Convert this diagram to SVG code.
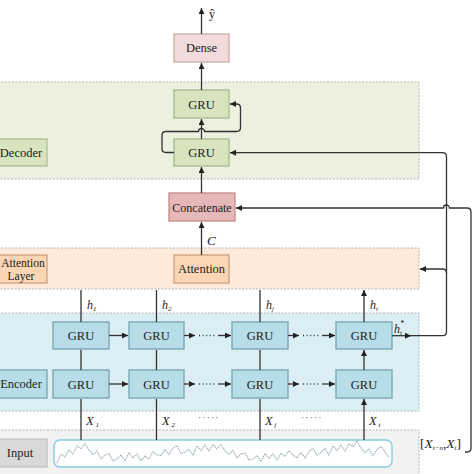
<svg xmlns="http://www.w3.org/2000/svg" width="474" height="474" viewBox="0 0 474 474" font-family="'Liberation Serif', 'Times New Roman', serif">
<defs>
<marker id="ah" markerWidth="8" markerHeight="8" refX="6" refY="3" orient="auto" markerUnits="userSpaceOnUse">
<path d="M0,0 L6,3 L0,6 Z" fill="#222"/>
</marker>
<style>
text{font-family:'Liberation Serif','Times New Roman',serif;fill:#222;}
.lbl{font-size:12.5px;text-anchor:middle;}
.it{font-style:italic;}
.reg{stroke:#b4b4b4;stroke-width:1;stroke-dasharray:2,1.5;}
.ln{fill:none;stroke:#333;stroke-width:1.3;}
.arr{fill:none;stroke:#333;stroke-width:1.3;marker-end:url(#ah);}
.dgru{fill:#d7e4bd;stroke:#a3b58a;stroke-width:1.2;}
.egru{fill:#b7dde8;stroke:#6f9fae;stroke-width:1.2;}
</style>
</defs>
<rect width="474" height="474" fill="#fff"/>

<!-- regions -->
<g id="decoder-region"><rect class="reg" x="-2" y="82" width="421" height="97" fill="#ebf1de"/></g>
<g id="attention-region"><rect class="reg" x="-2" y="248" width="421" height="41" fill="#fdeada"/></g>
<g id="encoder-region"><rect class="reg" x="-2" y="313" width="421" height="98" fill="#daeef3"/></g>
<g id="input-region"><rect class="reg" x="-2" y="430" width="421" height="45" fill="#f2f2f2"/></g>

<!-- side labels -->
<g id="decoder-label"><rect x="-9" y="139" width="56" height="27" fill="#d7e4bd" stroke="#a9b98f" stroke-width="1.2"/><text class="lbl" x="21" y="156.5">Decoder</text></g>
<g id="attention-label"><rect x="-9" y="255" width="56" height="28" fill="#fcd5b4" stroke="#c99c7a" stroke-width="1.2"/><text class="lbl" x="23" y="267" style="font-size:11.5px">Attention</text><text class="lbl" x="21" y="280" style="font-size:11.5px">Layer</text></g>
<g id="encoder-label"><rect x="-9" y="370" width="56" height="28" fill="#b7dde8" stroke="#6f9fae" stroke-width="1.2"/><text class="lbl" x="21" y="388">Encoder</text></g>
<g id="input-label"><rect x="-9" y="439" width="56" height="28" fill="#d9d9d9" stroke="#bfbfbf" stroke-width="1.2"/><text class="lbl" x="20" y="457">Input</text></g>

<!-- decoder nodes -->
<g id="dense"><rect x="174" y="34" width="55" height="28" fill="#f2dcdb" stroke="#c9a3a2" stroke-width="1.2"/><text class="lbl" x="201.5" y="52">Dense</text></g>
<g id="dec-gru-top"><rect class="dgru" x="174" y="90" width="55" height="28"/><text class="lbl" x="201.5" y="108.5">GRU</text></g>
<g id="dec-gru-bottom"><rect class="dgru" x="174" y="139" width="55" height="27"/><text class="lbl" x="201.5" y="157">GRU</text></g>
<g id="concatenate"><rect x="169" y="193" width="66" height="28" fill="#e6b9b8" stroke="#c08080" stroke-width="1.2"/><text class="lbl" x="202" y="211.5" style="font-size:12px">Concatenate</text></g>
<g id="attention"><rect x="174" y="255" width="55" height="28" fill="#fcd5b4" stroke="#c99c7a" stroke-width="1.2"/><text class="lbl" x="201.5" y="273">Attention</text></g>

<!-- encoder nodes -->
<g id="enc-gru-1a"><rect class="egru" x="53" y="322" width="56" height="27"/><text class="lbl" x="81" y="340">GRU</text></g>
<g id="enc-gru-2a"><rect class="egru" x="129" y="322" width="55" height="27"/><text class="lbl" x="156.5" y="340">GRU</text></g>
<g id="enc-gru-3a"><rect class="egru" x="232" y="322" width="56" height="27"/><text class="lbl" x="260" y="340">GRU</text></g>
<g id="enc-gru-4a"><rect class="egru" x="336" y="322" width="56" height="27"/><text class="lbl" x="364" y="340">GRU</text></g>
<g id="enc-gru-1b"><rect class="egru" x="53" y="370" width="56" height="28"/><text class="lbl" x="81" y="388.5">GRU</text></g>
<g id="enc-gru-2b"><rect class="egru" x="129" y="370" width="55" height="28"/><text class="lbl" x="156.5" y="388.5">GRU</text></g>
<g id="enc-gru-3b"><rect class="egru" x="232" y="370" width="56" height="28"/><text class="lbl" x="260" y="388.5">GRU</text></g>
<g id="enc-gru-4b"><rect class="egru" x="336" y="370" width="56" height="28"/><text class="lbl" x="364" y="388.5">GRU</text></g>

<!-- input waveform -->
<g id="waveform">
<rect x="54" y="440" width="338" height="27" rx="6" fill="#fff" stroke="#86cbe0" stroke-width="1.4"/>
<polyline fill="none" stroke="#a3b3bd" stroke-width="1.1" stroke-dasharray="1.6,0.7" points="57,463 61,454 65,457 69,450 73,454 77,446 81,448.5 85,443.5 89,450 93,454.5 97,451 101,459 105,455 109,453.5 113,461 117,459 121,455 125,461 129,452.5 133,458 137,454 141,461 145,456 149,459 153,451.5 157,455 161,455.5 165,449.5 169,454.5 173,448 177,445.5 181,453.5 185,452 189,449.5 193,455 197,446 201,450.5 205,445 209,451 213,444.5 217,449 221,444.5 225,451 229,454.5 233,450.5 237,458 241,454 245,453 249,460 253,459 257,455.5 261,461.5 265,453.5 269,458.5 273,454 277,460 281,453.5 285,456.5 289,450.5 293,455 297,458 301,452.5 305,458 309,451.5 313,448.5 317,455 321,452.5 325,448.5 329,455 333,446 337,450.5 341,445 345,451 349,443.8 353,446.6 357,441 361,448 365,453 369,448.5 373,455.6 377,449.5 381,446.5 385,452 389,457"/>
</g>

<!-- connectors -->
<g id="connectors">
<path class="arr" d="M201.5,34 V8"/>
<path class="arr" d="M201.5,90 V63"/>
<path class="arr" d="M201.5,139 V119"/>
<path class="arr" d="M201.5,193 V167"/>
<path class="arr" d="M201.5,255 V222"/>
<path class="arr" d="M174,152.5 H166 Q162,152.5 162,148.5 V135.5 Q162,131.5 166,131.5 H198.5 A3,3 0 0 1 204.5,131.5 H236.5 Q240.5,131.5 240.5,127.5 V108 Q240.5,104 236.5,104 H230"/>
<path class="arr" d="M392,335.7 H411"/>
<path class="arr" d="M410,335.7 H442.5 Q446.5,335.7 446.5,331.7 V156.7 Q446.5,152.7 442.5,152.7 H230"/>
<path class="arr" d="M446.5,273 Q446.5,269 442.5,269 H420"/>
<path class="arr" d="M465,452 H467 Q471,452 471,448 V212 Q471,208 467,208 H449.5 A3,3 0 0 0 443.5,208 H236"/>
<!-- encoder horizontal -->
<path class="arr" d="M109,335.5 H128"/>
<path class="arr" d="M184,335.5 H195"/>
<path class="arr" d="M218,335.5 H231"/>
<path class="arr" d="M288,335.5 H299"/>
<path class="arr" d="M322,335.5 H335"/>
<path class="arr" d="M109,384 H128"/>
<path class="arr" d="M184,384 H195"/>
<path class="arr" d="M218,384 H231"/>
<path class="arr" d="M288,384 H299"/>
<path class="arr" d="M322,384 H335"/>
<path class="ln" d="M199,335.5 H217 M303,335.5 H321 M199,384 H217 M303,384 H321" stroke-dasharray="1,2.6" stroke="#555"/>
<!-- encoder vertical -->
<path class="arr" d="M81,322 V290 M156.5,322 V290 M260,322 V290 M364,322 V290"/>
<path class="arr" d="M81,370 V350 M156.5,370 V350 M260,370 V350 M364,370 V350"/>
<path class="arr" d="M81,440 V399 M156.5,440 V399 M260,440 V399 M364,440 V399"/>
</g>

<!-- labels -->
<g id="labels">
<text x="209" y="18" style="font-size:12px">ŷ</text>
<text class="it" x="207" y="245" style="font-size:13px">C</text>
<text class="it" x="87" y="309" style="font-size:12px">h<tspan style="font-size:7px" dy="2">1</tspan></text>
<text class="it" x="162" y="309" style="font-size:12px">h<tspan style="font-size:7px" dy="2">2</tspan></text>
<text class="it" x="266" y="309" style="font-size:12px">h<tspan style="font-size:7px" dy="2">j</tspan></text>
<text class="it" x="370" y="309" style="font-size:12px">h<tspan style="font-size:7px" dy="2">t</tspan></text>
<text class="it" x="394" y="333" style="font-size:12px">h<tspan style="font-size:7px" dy="2">t</tspan><tspan style="font-size:8px" dx="-2" dy="-9">*</tspan></text>
<text class="it" x="86" y="425" style="font-size:12.5px">X<tspan style="font-size:7px" dy="2"> 1</tspan></text>
<text class="it" x="162" y="425" style="font-size:12.5px">X<tspan style="font-size:7px" dy="2"> 2</tspan></text>
<text class="it" x="265" y="425" style="font-size:12.5px">X<tspan style="font-size:7px" dy="2"> j</tspan></text>
<text class="it" x="369" y="425" style="font-size:12.5px">X<tspan style="font-size:7px" dy="2"> t</tspan></text>
<text x="198" y="421" style="font-size:10px;fill:#666;letter-spacing:1px">·····</text>
<text x="301" y="421" style="font-size:10px;fill:#666;letter-spacing:1px">·····</text>
<text x="420" y="448" style="font-size:13.5px">[<tspan class="it">X</tspan><tspan class="it" style="font-size:7px" dy="2">t−n</tspan><tspan dy="-2">,</tspan><tspan class="it">X</tspan><tspan class="it" style="font-size:7px" dy="2">t</tspan><tspan dy="-2">]</tspan></text>
</g>
</svg>
